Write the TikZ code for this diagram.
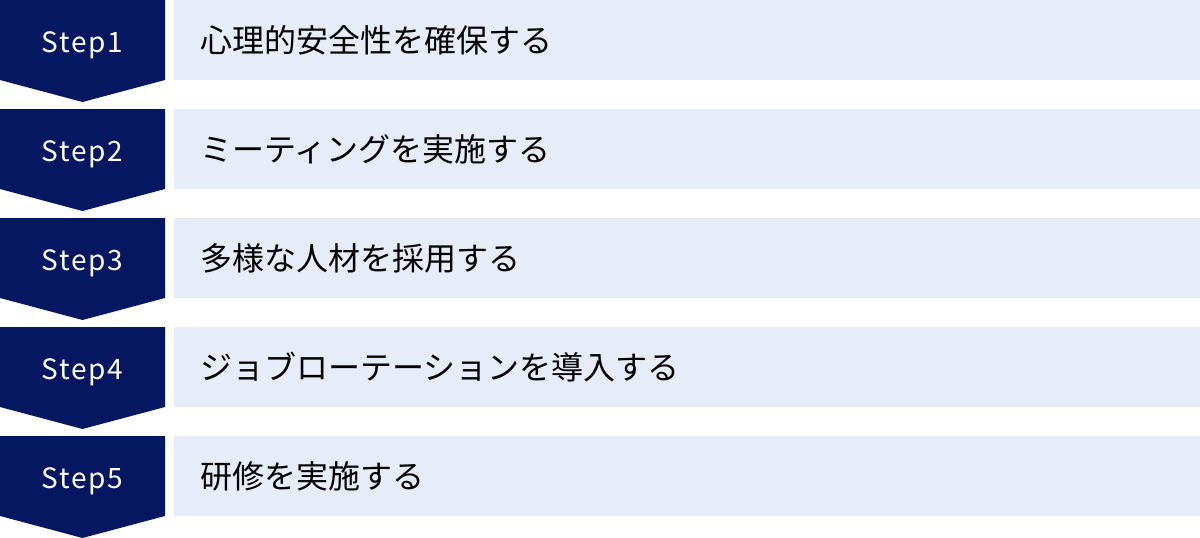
\documentclass[tikz,border=0pt]{standalone}
\usepackage{fontspec}
\setmainfont{Noto Sans CJK JP}
\newfontfamily\steplatin[LetterSpace=6]{Noto Sans CJK JP}
\usetikzlibrary{positioning}
\definecolor{stepnavy}{RGB}{4,23,96}
\definecolor{steplight}{RGB}{231,236,249}
\tikzset{
  steplabel/.style={text=white, inner sep=0pt, anchor=base, font=\steplatin\fontsize{28}{32}\selectfont},
  taskbox/.style={fill=steplight, inner sep=0pt, minimum width=1026pt, minimum height=80pt, anchor=north west},
  tasktext/.style={inner sep=0pt, anchor=west, font=\fontsize{32}{38}\selectfont},
}

\begin{document}
\begin{tikzpicture}[x=1pt,y=-1pt]
        \useasboundingbox (0,0) rectangle (1200,538);

        % steps, one row every 109
        \foreach \i/\task in {1/心理的安全性を確保する,
                              2/ミーティングを実施する,
                              3/多様な人材を採用する,
                              4/ジョブローテーションを導入する,
                              5/研修を実施する} {
            \pgfmathsetmacro\rowtop{(\i-1)*109}

            % chevron
            \fill[stepnavy] (0,\rowtop) -- (165,\rowtop) -- (165,\rowtop+80)
                -- (82.5,\rowtop+102) -- (0,\rowtop+80) -- cycle;
            \node[steplabel] (step\i) at (82.5,\rowtop+52) {Step\i};

            % task bar
            \node[taskbox] (bar\i) at (174,\rowtop) {};
            \node[tasktext] (task\i) at (200,\rowtop+40) {\task};
        }

    \end{tikzpicture}
\end{document}
